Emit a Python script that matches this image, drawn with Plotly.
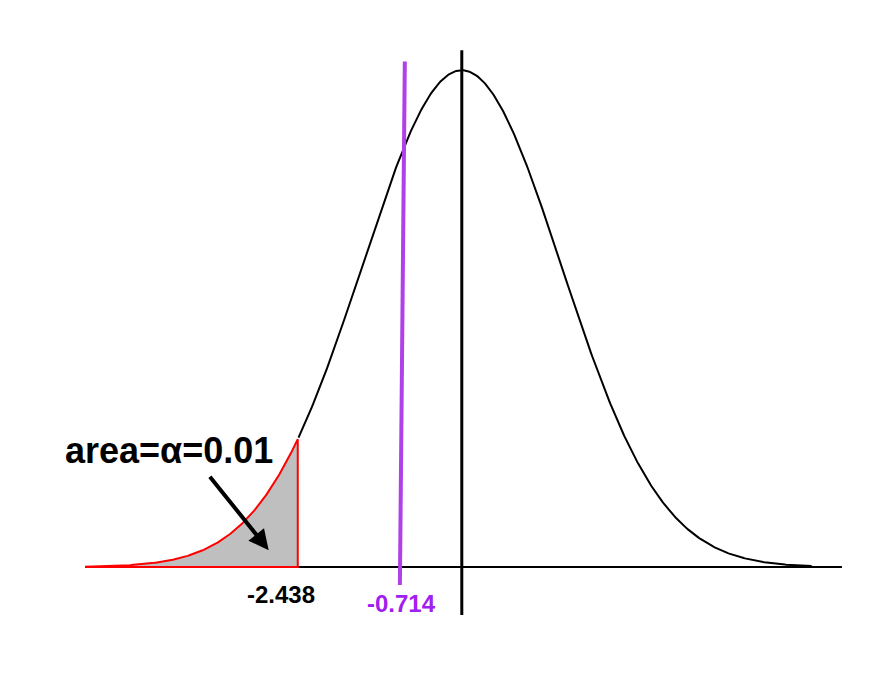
import math
import numpy as np
import plotly.graph_objects as go

# stylised bell curve for a left-tailed t test
peak = 0.395
spread = 1.48
alpha_label = "area=α=0.01"
t_crit = -2.438
t_stat_label = "-0.714"
x_min, x_max = -5.6, 5.2


def bell(x):
    return peak * np.exp(-0.5 * (x / spread) ** 2)


xs = np.linspace(x_min, x_max, 600)
ys = bell(xs)
xt = np.linspace(x_min, t_crit, 200)
yt = bell(xt)

fig = go.Figure()
# x axis line
fig.add_trace(go.Scatter(x=[x_min, 5.65], y=[0, 0], mode="lines",
                         line=dict(color="black", width=2), hoverinfo="skip"))
# shaded tail
fig.add_trace(go.Scatter(x=np.concatenate([xt, [t_crit, x_min]]),
                         y=np.concatenate([yt, [0, 0]]),
                         mode="lines", fill="toself", fillcolor="#bfbfbf",
                         line=dict(color="red", width=2), hoverinfo="skip"))
# density curve
fig.add_trace(go.Scatter(x=xs[xs >= t_crit], y=ys[xs >= t_crit], mode="lines",
                         line=dict(color="black", width=2), hoverinfo="skip"))
# centre line
fig.add_trace(go.Scatter(x=[0, 0], y=[-0.038, 0.411], mode="lines",
                         line=dict(color="black", width=3), hoverinfo="skip"))
# test statistic line
fig.add_trace(go.Scatter(x=[-0.847, -0.92], y=[0.402, -0.0143], mode="lines",
                         line=dict(color="#b040e8", width=4), hoverinfo="skip"))

fig.add_annotation(x=t_crit - 0.25, y=-0.022, text="<b>-2.438</b>", showarrow=False,
                   font=dict(size=24, color="black"))
fig.add_annotation(x=-0.9, y=-0.029, text="<b>" + t_stat_label + "</b>", showarrow=False,
                   font=dict(size=24, color="#a020f0"))
fig.add_annotation(x=-4.35, y=0.093, text="<b>" + alpha_label + "</b>", showarrow=False,
                   font=dict(size=36, color="black"))
fig.add_annotation(x=-2.87, y=0.0135, ax=-60, ay=-75, text="", showarrow=True,
                   arrowhead=2, arrowsize=1, arrowwidth=4, arrowcolor="black")

fig.update_layout(
    width=891, height=675, showlegend=False,
    plot_bgcolor="white", paper_bgcolor="white",
    margin=dict(l=77, r=53, t=22, b=53),
    font=dict(family="Liberation Sans, Arial, sans-serif"),
    xaxis=dict(range=[-5.6, 5.71], visible=False),
    yaxis=dict(range=[-0.050, 0.427], visible=False),
)
fig.write_html("out.html")
